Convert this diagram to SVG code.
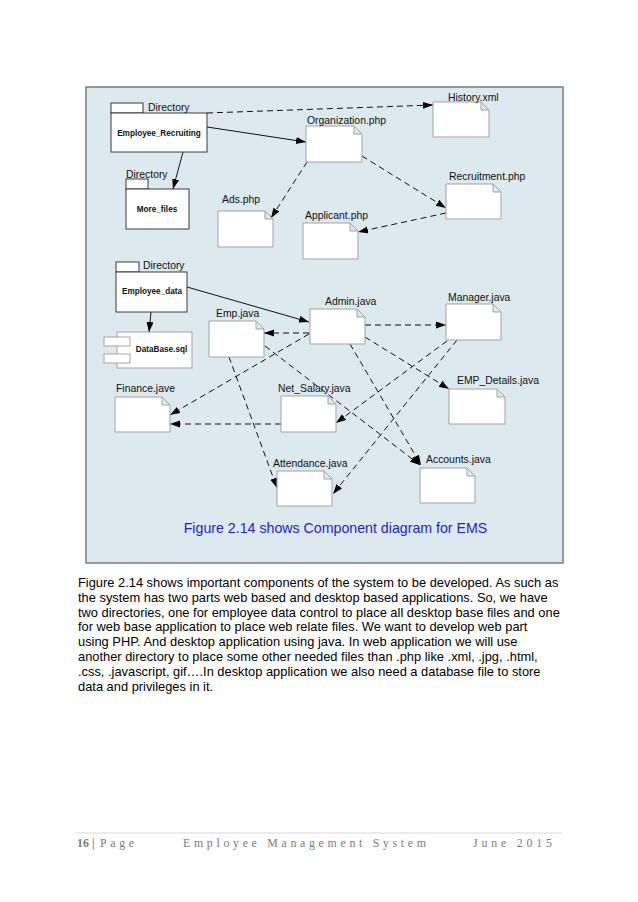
<svg xmlns="http://www.w3.org/2000/svg" width="638" height="902" viewBox="0 0 638 902">
<style>
.doc{fill:#fff;stroke:#a3a3a3;stroke-width:1}
.pkg{fill:#fff;stroke:#3a3a3a;stroke-width:1}
.lbl{font-family:"Liberation Sans",Arial,sans-serif;font-size:10.4px;fill:#111}
.bold{font-family:"Liberation Sans",Arial,sans-serif;font-size:8.2px;font-weight:bold;fill:#111;text-anchor:middle}
.solid{stroke:#111;stroke-width:1;fill:none;marker-end:url(#ah)}
.dash{stroke:#111;stroke-width:1;fill:none;stroke-dasharray:6 4;marker-end:url(#ah)}
.para{font-family:"Liberation Sans",Arial,sans-serif;font-size:12.87px;fill:#000}
.foot{font-family:"Liberation Serif","Times New Roman",serif;font-size:11.8px;fill:#7a7a7a}
</style>
<defs>
<marker id="ah" markerUnits="userSpaceOnUse" markerWidth="11" markerHeight="8" refX="10" refY="3.5" orient="auto">
<path d="M0,0 L10,3.5 L0,7 z" fill="#000"/>
</marker>
</defs>
<rect width="638" height="902" fill="#fff"/>
<rect x="86" y="87" width="477" height="476" fill="#dce9ef" stroke="#7a7a7a" stroke-width="1.5"/>

<g id="connectors">
<line class="solid" x1="183" y1="152" x2="173" y2="189"/>
<line class="solid" x1="207" y1="127" x2="306" y2="142"/>
<line class="solid" x1="151" y1="312" x2="149" y2="332"/>
<line class="solid" x1="187" y1="287" x2="309" y2="322"/>
<line class="dash" x1="207" y1="113" x2="433" y2="105"/>
<line class="dash" x1="307" y1="162" x2="271" y2="218"/>
<line class="dash" x1="362" y1="156" x2="446" y2="208"/>
<line class="dash" x1="446" y1="213" x2="358" y2="232"/>
<line class="dash" x1="309" y1="333" x2="264" y2="333"/>
<line class="dash" x1="309" y1="334" x2="170" y2="415"/>
<line class="dash" x1="281" y1="424" x2="170" y2="424"/>
<line class="dash" x1="229" y1="357" x2="277" y2="488"/>
<line class="dash" x1="265" y1="346" x2="420" y2="465"/>
<line class="dash" x1="365" y1="325" x2="446" y2="325"/>
<line class="dash" x1="365" y1="337" x2="449" y2="389"/>
<line class="dash" x1="350" y1="344" x2="421" y2="465"/>
<line class="dash" x1="447" y1="341" x2="336" y2="423"/>
<line class="dash" x1="457" y1="340" x2="333" y2="494"/>
</g>

<g id="employee_recruiting">
<rect class="pkg" x="111" y="103" width="32" height="10"/>
<rect class="pkg" x="111" y="113" width="96" height="39"/>
<text class="lbl" x="148" y="110.5">Directory</text>
<text class="bold" x="159" y="136">Employee_Recruiting</text>
</g>
<g id="more_files">
<rect class="pkg" x="126" y="179" width="22" height="10"/>
<rect class="pkg" x="126" y="189" width="63" height="40"/>
<text class="lbl" x="126" y="178">Directory</text>
<text class="bold" x="157" y="212">More_files</text>
</g>
<g id="employee_data">
<rect class="pkg" x="116" y="262" width="23" height="10"/>
<rect class="pkg" x="116" y="272" width="71" height="40"/>
<text class="lbl" x="143" y="269">Directory</text>
<text class="bold" x="152" y="294">Employee_data</text>
</g>
<g id="database_sql">
<rect class="doc" x="117" y="332" width="75" height="36"/>
<rect class="doc" x="104" y="337" width="26" height="9"/>
<rect class="doc" x="104" y="354" width="26" height="9"/>
<text class="bold" x="161.5" y="352">DataBase.sql</text>
</g>

<g id="history_xml">
<path class="doc" d="M433,102 H481 L489,110 V137 H433 Z M481,102 V110 H489"/>
<text class="lbl" x="448" y="100.5">History.xml</text>
</g>
<g id="organization_php">
<path class="doc" d="M306,126 H354 L362,134 V162 H306 Z M354,126 V134 H362"/>
<text class="lbl" x="307" y="124">Organization.php</text>
</g>
<g id="ads_php">
<path class="doc" d="M218,211 H265 L273,219 V247 H218 Z M265,211 V219 H273"/>
<text class="lbl" x="222" y="203">Ads.php</text>
</g>
<g id="applicant_php">
<path class="doc" d="M303,223 H350 L358,231 V259 H303 Z M350,223 V231 H358"/>
<text class="lbl" x="305" y="219">Applicant.php</text>
</g>
<g id="recruitment_php">
<path class="doc" d="M446,184 H493 L501,192 V219 H446 Z M493,184 V192 H501"/>
<text class="lbl" x="449" y="180">Recruitment.php</text>
</g>
<g id="emp_java">
<path class="doc" d="M209,321 H256 L264,329 V357 H209 Z M256,321 V329 H264"/>
<text class="lbl" x="216" y="317">Emp.java</text>
</g>
<g id="admin_java">
<path class="doc" d="M310,309 H357 L365,317 V344 H310 Z M357,309 V317 H365"/>
<text class="lbl" x="325" y="305">Admin.java</text>
</g>
<g id="manager_java">
<path class="doc" d="M446,304 H493 L501,312 V340 H446 Z M493,304 V312 H501"/>
<text class="lbl" x="448" y="301">Manager.java</text>
</g>
<g id="emp_details_java">
<path class="doc" d="M449,389 H497 L505,397 V424 H449 Z M497,389 V397 H505"/>
<text class="lbl" x="457" y="384">EMP_Details.java</text>
</g>
<g id="net_salary_java">
<path class="doc" d="M281,396 H328 L336,404 V432 H281 Z M328,396 V404 H336"/>
<text class="lbl" x="278" y="392">Net_Salary.java</text>
</g>
<g id="finance_jave">
<path class="doc" d="M115,397 H162 L170,405 V432 H115 Z M162,397 V405 H170"/>
<text class="lbl" x="116" y="392">Finance.jave</text>
</g>
<g id="attendance_java">
<path class="doc" d="M277,471 H324 L332,479 V506 H277 Z M324,471 V479 H332"/>
<text class="lbl" x="273" y="467">Attendance.java</text>
</g>
<g id="accounts_java">
<path class="doc" d="M420,468 H467 L475,476 V503 H420 Z M467,468 V476 H475"/>
<text class="lbl" x="426" y="463">Accounts.java</text>
</g>

<text x="335.5" y="533" text-anchor="middle" font-family="Liberation Sans, Arial, sans-serif" font-size="14.2" fill="#2424d4">Figure 2.14 shows Component diagram for EMS</text>

<g id="paragraph" class="para">
<text x="78" y="587">Figure 2.14 shows important components of the system to be developed. As such as</text>
<text x="78" y="601.8">the system has two parts web based and desktop based applications. So, we have</text>
<text x="78" y="616.6">two directories, one for employee data control to place all desktop base files and one</text>
<text x="78" y="631.4">for web base application to place web relate files. We want to develop web part</text>
<text x="78" y="646.2">using PHP. And desktop application using java. In web application we will use</text>
<text x="78" y="661">another directory to place some other needed files than .php like .xml, .jpg, .html,</text>
<text x="78" y="675.8">.css, .javascript, gif….In desktop application we also need a database file to store</text>
<text x="78" y="690.6">data and privileges in it.</text>
</g>

<g id="footer">
<line x1="76" y1="833" x2="562" y2="833" stroke="#d8d8d8" stroke-width="1"/>
<text class="foot" x="77" y="847" font-weight="bold" fill="#222">16</text>
<text class="foot" x="92" y="847" font-weight="bold" fill="#222">|</text>
<text class="foot" x="100" y="847" textLength="34" lengthAdjust="spacing">Page</text>
<text class="foot" x="183" y="847" textLength="243" lengthAdjust="spacing">Employee Management System</text>
<text class="foot" x="473" y="847" textLength="79" lengthAdjust="spacing">June 2015</text>
</g>
</svg>
